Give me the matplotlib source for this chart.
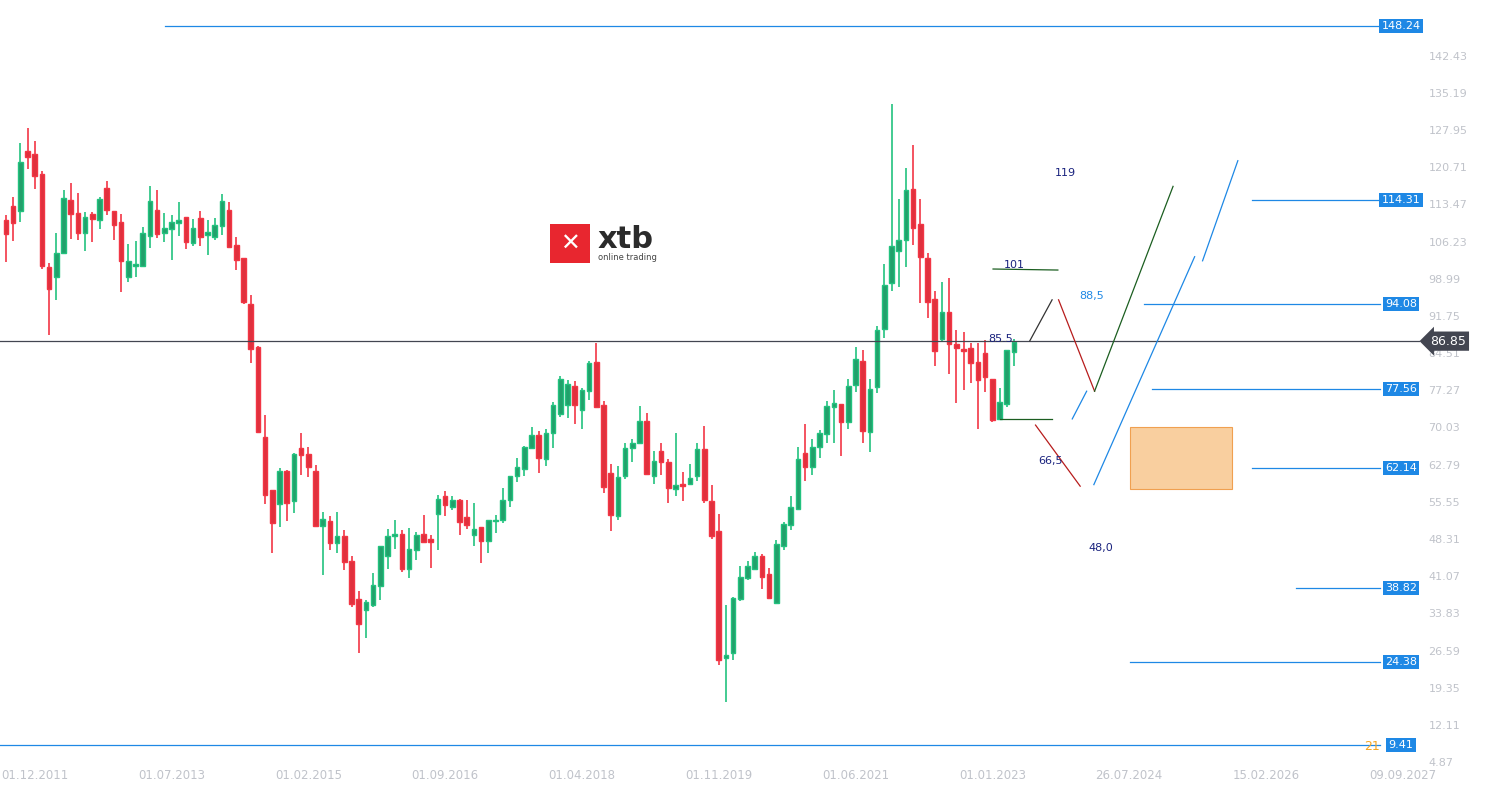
import numpy as np
import matplotlib.pyplot as plt
from matplotlib.patches import Rectangle

# monthly candles, Aug 2011 .. Apr 2023 (open, high, low, close)
opens = [110.5, 113.2, 112.2, 123.9, 123.3, 119.4, 101.3, 99.4, 104.1, 114.4,
         111.8, 107.9, 111.6, 110.4, 116.7, 112.2, 110.1, 99.4, 101.4, 101.4,
         107.4, 112.4, 108.0, 108.6, 109.8, 111.1, 105.9, 110.9, 107.5, 107.2,
         109.2, 112.4, 105.6, 103.1, 94.1, 85.8, 68.1, 57.8, 55.1, 61.5,
         55.8, 66.0, 64.8, 61.5, 50.9, 51.9, 47.6, 48.8, 44.0, 36.6,
         34.4, 35.5, 39.2, 45.0, 48.8, 49.2, 42.4, 46.1, 49.2, 48.3,
         53.1, 56.7, 54.6, 55.9, 52.5, 49.0, 50.6, 48.0, 51.8, 52.0,
         55.9, 60.5, 61.9, 66.0, 68.5, 63.8, 68.9, 72.6, 74.5, 78.1,
         73.4, 77.1, 82.7, 74.4, 61.1, 52.7, 60.5, 66.0, 67.1, 71.2,
         60.5, 65.4, 63.4, 58.0, 59.0, 59.0, 60.5, 65.8, 55.7, 49.8,
         25.1, 26.1, 36.6, 40.7, 42.4, 45.0, 41.4, 35.8, 46.9, 51.1,
         54.2, 65.0, 62.4, 66.3, 68.8, 74.0, 74.6, 71.1, 78.3, 82.9,
         69.1, 77.9, 89.2, 98.1, 104.4, 106.5, 116.4, 109.6, 103.0, 95.0,
         87.2, 92.5, 86.2, 85.3, 85.5, 82.8, 84.5, 79.4, 71.7, 74.6, 84.7]
highs = [111.4, 115.0, 125.5, 128.4, 125.9, 119.9, 102.0, 107.9, 116.2, 117.7,
         115.7, 112.0, 112.0, 115.0, 118.1, 112.2, 111.6, 105.7, 106.4, 109.0,
         117.1, 116.3, 111.9, 111.4, 114.0, 111.1, 110.7, 112.2, 110.5, 110.9,
         115.5, 114.0, 107.2, 103.1, 95.9, 85.9, 72.5, 57.8, 62.1, 61.8,
         65.0, 69.0, 66.2, 62.7, 53.6, 52.8, 53.6, 50.1, 45.0, 38.2,
         36.4, 41.7, 46.9, 50.3, 52.0, 50.1, 50.5, 49.7, 53.0, 49.1,
         56.8, 57.7, 56.7, 56.2, 55.9, 55.3, 50.6, 52.1, 52.9, 58.2,
         60.5, 64.1, 66.4, 70.1, 69.3, 69.7, 75.0, 80.1, 79.3, 79.1,
         77.7, 82.9, 86.4, 75.2, 63.0, 62.5, 67.1, 67.7, 74.2, 72.8,
         65.5, 67.0, 63.8, 68.9, 61.3, 62.9, 67.0, 70.3, 58.8, 53.1,
         35.4, 37.1, 43.0, 44.0, 45.7, 45.3, 42.6, 48.1, 51.7, 56.7,
         66.2, 70.7, 67.8, 69.6, 75.2, 77.4, 74.6, 79.5, 85.7, 85.2,
         79.5, 89.8, 101.9, 133.0, 114.6, 120.6, 125.1, 114.6, 104.0, 96.6,
         98.3, 99.1, 89.0, 88.6, 86.5, 86.5, 87.1, 79.4, 77.7, 85.1, 87.2]
lows = [102.2, 106.4, 110.1, 120.4, 116.5, 100.9, 88.1, 94.9, 104.1, 106.8,
        106.6, 104.5, 106.2, 108.7, 111.4, 106.6, 96.4, 98.4, 99.4, 101.4,
        105.0, 107.0, 106.1, 102.7, 107.4, 104.8, 105.3, 105.3, 103.7, 106.6,
        107.5, 105.1, 100.7, 94.0, 82.5, 69.2, 55.2, 45.6, 50.7, 51.9,
        53.3, 60.7, 60.3, 50.9, 41.3, 46.2, 45.6, 42.3, 35.1, 26.2,
        29.1, 35.1, 36.4, 42.5, 46.3, 41.8, 40.8, 44.3, 47.7, 42.7,
        46.2, 52.8, 53.9, 49.0, 50.3, 47.0, 43.7, 45.5, 49.4, 51.4,
        54.5, 59.5, 60.5, 65.8, 61.2, 62.6, 66.1, 72.0, 71.9, 70.8,
        69.8, 75.3, 74.0, 57.2, 49.9, 52.0, 60.0, 63.4, 67.1, 60.9,
        59.0, 60.7, 55.3, 56.6, 55.7, 58.8, 59.7, 55.3, 48.3, 23.7,
        16.5, 24.7, 36.2, 40.3, 42.2, 38.5, 36.6, 35.6, 46.2, 50.1,
        54.2, 59.7, 60.7, 64.0, 67.0, 67.0, 64.4, 69.8, 77.0, 67.0,
        65.2, 76.7, 87.4, 96.7, 97.3, 101.3, 105.5, 94.2, 91.3, 82.1,
        86.8, 80.4, 74.8, 77.3, 78.7, 69.7, 76.9, 71.1, 71.7, 74.1, 82.0]
closes = [107.7, 109.9, 121.7, 122.8, 119.1, 101.4, 97.1, 104.0, 114.7, 111.7,
          108.0, 111.1, 110.6, 114.6, 112.3, 109.4, 102.5, 102.5, 101.9, 107.9,
          114.2, 107.8, 108.9, 110.1, 110.5, 106.1, 108.9, 107.2, 108.1, 109.5,
          114.2, 105.1, 102.7, 94.4, 85.4, 69.2, 56.8, 51.5, 61.5, 55.4,
          64.8, 64.6, 62.4, 50.9, 52.3, 47.6, 48.8, 43.9, 35.7, 31.8,
          36.0, 39.3, 46.9, 48.8, 49.2, 42.5, 46.3, 49.0, 47.7, 47.8,
          56.2, 54.9, 55.9, 51.7, 51.1, 50.3, 48.0, 52.1, 52.1, 56.0,
          60.5, 62.3, 66.2, 68.5, 64.0, 68.9, 74.4, 79.4, 78.6, 74.4,
          77.3, 82.5, 74.0, 58.4, 52.9, 60.3, 66.0, 67.1, 71.2, 60.9,
          63.6, 63.4, 58.2, 58.8, 58.6, 60.1, 65.8, 55.9, 48.8, 24.7,
          25.7, 36.8, 41.0, 43.0, 45.0, 41.0, 36.8, 47.3, 51.2, 54.5,
          63.9, 62.3, 66.2, 68.9, 74.3, 74.8, 71.1, 78.1, 83.3, 69.4,
          77.5, 89.0, 97.7, 105.4, 106.5, 116.3, 108.8, 103.2, 94.4, 84.9,
          92.5, 86.2, 85.5, 84.9, 82.6, 79.3, 79.8, 71.5, 75.0, 85.1, 86.6]

# x tick labels (month index from Aug 2011)
date_ticks = [4, 23, 42, 61, 80, 99, 118, 137, 156, 175, 194]
date_labels = ['01.12.2011', '01.07.2013', '01.02.2015', '01.09.2016', '01.04.2018',
               '01.11.2019', '01.06.2021', '01.01.2023', '26.07.2024', '15.02.2026',
               '09.09.2027']
price_ticks = [4.87, 12.11, 19.35, 26.59, 33.83, 41.07, 48.31, 55.55, 62.79, 70.03,
               77.27, 84.51, 91.75, 98.99, 106.23, 113.47, 120.71, 127.95, 135.19, 142.43]

# horizontal levels (label, drawn price, start month)
levels = [148.24, 114.31, 94.08, 77.56, 62.14, 38.82, 24.38, 9.41]
level_pos = [148.24, 114.31, 94.08, 77.56, 62.14, 38.82, 24.38, 8.2]
level_start = [22.1, 173.0, 158.0, 159.2, 173.0, 179.2, 156.1, -0.8]
level_end = 190.8
last_price = 86.85

# drawn scenario lines: (m0, p0, m1, p1, colour)
segments = [
    (137.1, 100.9, 146.1, 100.7, '#1b5e20'),
    (138.1, 71.7, 145.3, 71.7, '#1b5e20'),
    (142.2, 86.9, 145.3, 94.9, '#333333'),
    (146.2, 94.9, 151.2, 77.1, '#b71c1c'),
    (151.2, 77.1, 162.1, 117.0, '#1b5e20'),
    (143.0, 70.5, 149.2, 58.6, '#b71c1c'),
    (148.1, 71.7, 150.1, 77.1, '#1e88e5'),
    (151.1, 58.9, 165.1, 103.3, '#1e88e5'),
    (166.2, 102.5, 171.1, 122.0, '#1e88e5'),
]
notes = [(147.1, 119.6, '119', '#1a237e'), (140.1, 101.7, '101', '#1a237e'),
         (150.8, 95.6, '88,5', '#1e88e5'), (138.1, 87.3, '85.5', '#1a237e'),
         (145.1, 63.6, '66,5', '#1a237e'), (152.0, 46.5, '48,0', '#1a237e')]

W, H = 1490, 793
fig = plt.figure(figsize=(W / 100, H / 100), dpi=100)
ax = fig.add_axes([0, 1 - 765 / H, 1420 / W, 765 / H])
ax.set_xlim(-0.83, 196.4)
ax.set_ylim(4.29, 153.3)

up_face, up_edge = '#22a06b', '#22c27f'
dn_face, dn_edge = '#e0303d', '#f23645'
for i in range(len(opens)):
    o, h, l, c = opens[i], highs[i], lows[i], closes[i]
    up = c >= o
    fc, ec = (up_face, up_edge) if up else (dn_face, dn_edge)
    ax.vlines(i, l, h, color=ec, lw=1.2, zorder=2)
    ax.add_patch(Rectangle((i - 0.32, min(o, c)), 0.64, max(abs(c - o), 0.3),
                           facecolor=fc, edgecolor=ec, lw=1, zorder=3))

trans = ax.get_yaxis_transform()
for lab, p, s in zip(levels, level_pos, level_start):
    ax.plot([s, level_end], [p, p], color='#1e88e5', lw=0.9, zorder=2)
    ax.text(0.9866, p, f'{lab:.2f}', transform=trans, ha='center', va='center',
            color='white', fontsize=8,
            bbox=dict(boxstyle='square,pad=0.2', fc='#1e88e5', ec='none'), zorder=6)
ax.text(0.966, 7.9, '21', transform=trans, ha='center', va='center',
        color='#f5a623', fontsize=9, zorder=5)

ax.axhline(last_price, color='#434651', lw=0.9, zorder=4)
ax.text(1.0197, last_price, f'{last_price:.2f}', transform=trans, ha='center',
        va='center', color='white', fontsize=9, clip_on=False,
        bbox=dict(boxstyle='larrow,pad=0.25', fc='#434651', ec='none'), zorder=6)

ax.add_patch(Rectangle((156.1, 58.0), 14.2, 12.1, facecolor='#f9cf9f',
                       edgecolor='#f0a050', lw=0.8, zorder=2))
for m0, p0, m1, p1, col in segments:
    ax.plot([m0, m1], [p0, p1], color=col, lw=0.9, zorder=4)
for m, p, t, col in notes:
    ax.text(m, p, t, color=col, fontsize=8, ha='center', va='center', zorder=5)

ax.set_yticks(price_ticks)
ax.set_yticklabels([f'{v:.2f}' for v in price_ticks])
ax.yaxis.tick_right()
ax.set_xticks(date_ticks)
ax.set_xticklabels(date_labels)
ax.tick_params(length=0, colors='#c0c3ca', labelsize=8)
ax.tick_params(axis='y', pad=6)
ax.tick_params(axis='x', pad=3, labelsize=8.5)
for s in ax.spines.values():
    s.set_visible(False)

# xtb logo
fig.patches.append(Rectangle((550 / W, 1 - 263 / H), 40 / W, 39 / H,
                             transform=fig.transFigure, fc='#e8262f', ec='none'))
fig.text(570 / W, 1 - 244 / H, '\u2715', color='white', fontsize=17,
         ha='center', va='center', fontweight='bold')
fig.text(598 / W, 1 - 240 / H, 'xtb', color='#2b2b2b', fontsize=22,
         fontweight='bold', va='center')
fig.text(598 / W, 1 - 258 / H, 'online trading', color='#444444', fontsize=6,
         va='center')

fig.savefig('out.png', dpi=100, facecolor='white')
